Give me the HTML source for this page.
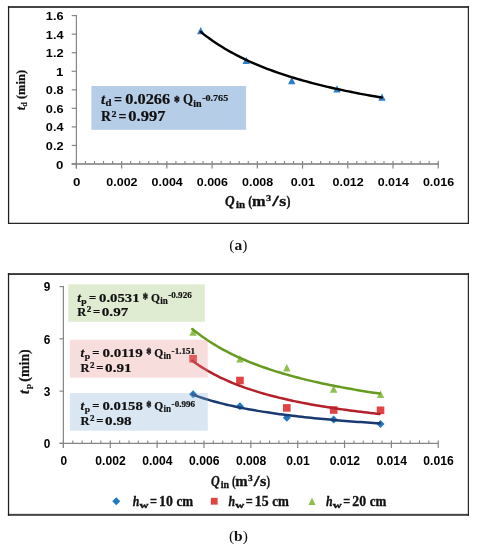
<!DOCTYPE html>
<html><head><meta charset="utf-8"><title>Figure</title>
<style>html,body{margin:0;padding:0;background:#fff}svg{display:block}text{fill:#111}.sa{font-family:"Liberation Sans",sans-serif;font-weight:bold;fill:#000}.se{font-family:"Liberation Serif",serif;font-weight:bold;stroke:#111;stroke-width:0.2px}.lg{stroke-width:0.35px}.xl{stroke-width:0.3px}.st{stroke-width:0.5px}.cap{font-family:"Liberation Serif",serif}</style></head>
<body>
<svg width="480" height="550" viewBox="0 0 480 550">
<rect width="480" height="550" fill="#fff"/>
<rect x="7.95" y="6.05" width="461.00" height="1.9" fill="#3c3c3c"/>
<rect x="7.95" y="222.75" width="461.00" height="1.2" fill="#1e1e1e"/>
<rect x="7.95" y="6.05" width="1.25" height="217.90" fill="#1e1e1e"/>
<rect x="467.80" y="6.05" width="1.15" height="217.90" fill="#1e1e1e"/>
<rect x="91.4" y="86" width="154.7" height="43.8" fill="#b5cde6"/>
<line x1="76.40" y1="15.00" x2="76.40" y2="168.60" stroke="#868686" stroke-width="1.2"/>
<line x1="71.70" y1="164.00" x2="438.85" y2="164.00" stroke="#7a7a7a" stroke-width="1.7"/>
<line x1="71.70" y1="164.00" x2="76.40" y2="164.00" stroke="#868686" stroke-width="1.2"/>
<text x="63.50" y="168.50" class="sa" font-size="11.7" text-anchor="end" textLength="7.4" lengthAdjust="spacingAndGlyphs">0</text>
<line x1="71.70" y1="145.45" x2="76.40" y2="145.45" stroke="#868686" stroke-width="1.2"/>
<text x="63.50" y="149.95" class="sa" font-size="11.7" text-anchor="end" textLength="17.7" lengthAdjust="spacingAndGlyphs">0.2</text>
<line x1="71.70" y1="126.90" x2="76.40" y2="126.90" stroke="#868686" stroke-width="1.2"/>
<text x="63.50" y="131.40" class="sa" font-size="11.7" text-anchor="end" textLength="17.7" lengthAdjust="spacingAndGlyphs">0.4</text>
<line x1="71.70" y1="108.35" x2="76.40" y2="108.35" stroke="#868686" stroke-width="1.2"/>
<text x="63.50" y="112.85" class="sa" font-size="11.7" text-anchor="end" textLength="17.7" lengthAdjust="spacingAndGlyphs">0.6</text>
<line x1="71.70" y1="89.80" x2="76.40" y2="89.80" stroke="#868686" stroke-width="1.2"/>
<text x="63.50" y="94.30" class="sa" font-size="11.7" text-anchor="end" textLength="17.7" lengthAdjust="spacingAndGlyphs">0.8</text>
<line x1="71.70" y1="71.25" x2="76.40" y2="71.25" stroke="#868686" stroke-width="1.2"/>
<text x="63.50" y="75.75" class="sa" font-size="11.7" text-anchor="end" textLength="7.4" lengthAdjust="spacingAndGlyphs">1</text>
<line x1="71.70" y1="52.70" x2="76.40" y2="52.70" stroke="#868686" stroke-width="1.2"/>
<text x="63.50" y="57.20" class="sa" font-size="11.7" text-anchor="end" textLength="17.7" lengthAdjust="spacingAndGlyphs">1.2</text>
<line x1="71.70" y1="34.15" x2="76.40" y2="34.15" stroke="#868686" stroke-width="1.2"/>
<text x="63.50" y="38.65" class="sa" font-size="11.7" text-anchor="end" textLength="17.7" lengthAdjust="spacingAndGlyphs">1.4</text>
<line x1="71.70" y1="15.60" x2="76.40" y2="15.60" stroke="#868686" stroke-width="1.2"/>
<text x="63.50" y="20.10" class="sa" font-size="11.7" text-anchor="end" textLength="17.7" lengthAdjust="spacingAndGlyphs">1.6</text>
<line x1="76.40" y1="161.00" x2="76.40" y2="168.60" stroke="#868686" stroke-width="1.2"/>
<text x="76.70" y="186.00" class="sa" font-size="11.7" text-anchor="middle" textLength="7.4" lengthAdjust="spacingAndGlyphs">0</text>
<line x1="85.45" y1="161.00" x2="85.45" y2="164.00" stroke="#868686" stroke-width="1.1"/>
<line x1="94.49" y1="161.00" x2="94.49" y2="164.00" stroke="#868686" stroke-width="1.1"/>
<line x1="103.54" y1="161.00" x2="103.54" y2="164.00" stroke="#868686" stroke-width="1.1"/>
<line x1="112.59" y1="161.00" x2="112.59" y2="164.00" stroke="#868686" stroke-width="1.1"/>
<line x1="121.63" y1="161.00" x2="121.63" y2="168.60" stroke="#868686" stroke-width="1.2"/>
<text x="121.93" y="186.00" class="sa" font-size="11.7" text-anchor="middle" textLength="31.2" lengthAdjust="spacingAndGlyphs">0.002</text>
<line x1="130.68" y1="161.00" x2="130.68" y2="164.00" stroke="#868686" stroke-width="1.1"/>
<line x1="139.72" y1="161.00" x2="139.72" y2="164.00" stroke="#868686" stroke-width="1.1"/>
<line x1="148.77" y1="161.00" x2="148.77" y2="164.00" stroke="#868686" stroke-width="1.1"/>
<line x1="157.82" y1="161.00" x2="157.82" y2="164.00" stroke="#868686" stroke-width="1.1"/>
<line x1="166.86" y1="161.00" x2="166.86" y2="168.60" stroke="#868686" stroke-width="1.2"/>
<text x="167.16" y="186.00" class="sa" font-size="11.7" text-anchor="middle" textLength="31.2" lengthAdjust="spacingAndGlyphs">0.004</text>
<line x1="175.91" y1="161.00" x2="175.91" y2="164.00" stroke="#868686" stroke-width="1.1"/>
<line x1="184.96" y1="161.00" x2="184.96" y2="164.00" stroke="#868686" stroke-width="1.1"/>
<line x1="194.00" y1="161.00" x2="194.00" y2="164.00" stroke="#868686" stroke-width="1.1"/>
<line x1="203.05" y1="161.00" x2="203.05" y2="164.00" stroke="#868686" stroke-width="1.1"/>
<line x1="212.09" y1="161.00" x2="212.09" y2="168.60" stroke="#868686" stroke-width="1.2"/>
<text x="212.39" y="186.00" class="sa" font-size="11.7" text-anchor="middle" textLength="31.2" lengthAdjust="spacingAndGlyphs">0.006</text>
<line x1="221.14" y1="161.00" x2="221.14" y2="164.00" stroke="#868686" stroke-width="1.1"/>
<line x1="230.19" y1="161.00" x2="230.19" y2="164.00" stroke="#868686" stroke-width="1.1"/>
<line x1="239.23" y1="161.00" x2="239.23" y2="164.00" stroke="#868686" stroke-width="1.1"/>
<line x1="248.28" y1="161.00" x2="248.28" y2="164.00" stroke="#868686" stroke-width="1.1"/>
<line x1="257.33" y1="161.00" x2="257.33" y2="168.60" stroke="#868686" stroke-width="1.2"/>
<text x="257.63" y="186.00" class="sa" font-size="11.7" text-anchor="middle" textLength="31.2" lengthAdjust="spacingAndGlyphs">0.008</text>
<line x1="266.37" y1="161.00" x2="266.37" y2="164.00" stroke="#868686" stroke-width="1.1"/>
<line x1="275.42" y1="161.00" x2="275.42" y2="164.00" stroke="#868686" stroke-width="1.1"/>
<line x1="284.46" y1="161.00" x2="284.46" y2="164.00" stroke="#868686" stroke-width="1.1"/>
<line x1="293.51" y1="161.00" x2="293.51" y2="164.00" stroke="#868686" stroke-width="1.1"/>
<line x1="302.56" y1="161.00" x2="302.56" y2="168.60" stroke="#868686" stroke-width="1.2"/>
<text x="302.86" y="186.00" class="sa" font-size="11.7" text-anchor="middle" textLength="24.4" lengthAdjust="spacingAndGlyphs">0.01</text>
<line x1="311.60" y1="161.00" x2="311.60" y2="164.00" stroke="#868686" stroke-width="1.1"/>
<line x1="320.65" y1="161.00" x2="320.65" y2="164.00" stroke="#868686" stroke-width="1.1"/>
<line x1="329.70" y1="161.00" x2="329.70" y2="164.00" stroke="#868686" stroke-width="1.1"/>
<line x1="338.74" y1="161.00" x2="338.74" y2="164.00" stroke="#868686" stroke-width="1.1"/>
<line x1="347.79" y1="161.00" x2="347.79" y2="168.60" stroke="#868686" stroke-width="1.2"/>
<text x="348.09" y="186.00" class="sa" font-size="11.7" text-anchor="middle" textLength="31.2" lengthAdjust="spacingAndGlyphs">0.012</text>
<line x1="356.83" y1="161.00" x2="356.83" y2="164.00" stroke="#868686" stroke-width="1.1"/>
<line x1="365.88" y1="161.00" x2="365.88" y2="164.00" stroke="#868686" stroke-width="1.1"/>
<line x1="374.93" y1="161.00" x2="374.93" y2="164.00" stroke="#868686" stroke-width="1.1"/>
<line x1="383.97" y1="161.00" x2="383.97" y2="164.00" stroke="#868686" stroke-width="1.1"/>
<line x1="393.02" y1="161.00" x2="393.02" y2="168.60" stroke="#868686" stroke-width="1.2"/>
<text x="393.32" y="186.00" class="sa" font-size="11.7" text-anchor="middle" textLength="31.2" lengthAdjust="spacingAndGlyphs">0.014</text>
<line x1="402.07" y1="161.00" x2="402.07" y2="164.00" stroke="#868686" stroke-width="1.1"/>
<line x1="411.11" y1="161.00" x2="411.11" y2="164.00" stroke="#868686" stroke-width="1.1"/>
<line x1="420.16" y1="161.00" x2="420.16" y2="164.00" stroke="#868686" stroke-width="1.1"/>
<line x1="429.20" y1="161.00" x2="429.20" y2="164.00" stroke="#868686" stroke-width="1.1"/>
<line x1="438.25" y1="161.00" x2="438.25" y2="168.60" stroke="#868686" stroke-width="1.2"/>
<text x="438.55" y="186.00" class="sa" font-size="11.7" text-anchor="middle" textLength="31.2" lengthAdjust="spacingAndGlyphs">0.016</text>
<polygon points="200.75,27.10 204.45,34.30 197.05,34.30" fill="#2a7fc6"/>
<polygon points="246.25,56.80 249.95,64.00 242.55,64.00" fill="#2a7fc6"/>
<polygon points="291.75,77.00 295.45,84.20 288.05,84.20" fill="#2a7fc6"/>
<polygon points="337.00,85.20 340.70,92.40 333.30,92.40" fill="#2a7fc6"/>
<polygon points="382.00,93.60 385.70,100.80 378.30,100.80" fill="#2a7fc6"/>
<polyline points="200.79,31.93 203.80,34.32 206.82,36.62 209.83,38.83 212.85,40.95 215.86,42.99 218.88,44.96 221.89,46.85 224.91,48.67 227.92,50.43 230.94,52.13 233.96,53.77 236.97,55.36 239.99,56.90 243.00,58.38 246.02,59.82 249.03,61.22 252.05,62.57 255.06,63.88 258.08,65.16 261.09,66.39 264.11,67.59 267.13,68.76 270.14,69.90 273.16,71.00 276.17,72.08 279.19,73.13 282.20,74.15 285.22,75.14 288.23,76.11 291.25,77.06 294.26,77.98 297.28,78.88 300.29,79.76 303.31,80.61 306.33,81.45 309.34,82.27 312.36,83.07 315.37,83.85 318.39,84.62 321.40,85.37 324.42,86.10 327.43,86.82 330.45,87.52 333.46,88.21 336.48,88.88 339.50,89.54 342.51,90.18 345.53,90.82 348.54,91.44 351.56,92.05 354.57,92.65 357.59,93.23 360.60,93.81 363.62,94.37 366.63,94.93 369.65,95.47 372.66,96.00 375.68,96.53 378.70,97.04 381.71,97.55" fill="none" stroke="#000" stroke-width="2.4" stroke-linecap="round" stroke-linejoin="round"/>
<text x="101.00" y="104.20" class="se" font-size="14.00" font-style="italic" textLength="4.20" lengthAdjust="spacingAndGlyphs">t</text>
<text x="105.60" y="106.40" class="se" font-size="9.46" textLength="6.00" lengthAdjust="spacingAndGlyphs">d</text>
<text x="114.00" y="104.20" class="se" font-size="14.00" textLength="8.00" lengthAdjust="spacingAndGlyphs">=</text>
<text x="125.30" y="104.20" class="se" font-size="14.00" textLength="44.85" lengthAdjust="spacingAndGlyphs">0.0266</text>
<text x="173.90" y="106.50" class="se st" font-size="17.50" textLength="5.80" lengthAdjust="spacingAndGlyphs">*</text>
<text x="182.90" y="104.20" class="se" font-size="14.00" textLength="10.00" lengthAdjust="spacingAndGlyphs">Q</text>
<text x="193.20" y="106.70" class="se" font-size="9.63" textLength="8.40" lengthAdjust="spacingAndGlyphs">in</text>
<text x="202.20" y="100.70" class="se" font-size="8.60" textLength="26.00" lengthAdjust="spacingAndGlyphs">-0.765</text>
<text x="101.10" y="120.70" class="se" font-size="14.00" textLength="10.00" lengthAdjust="spacingAndGlyphs">R</text>
<text x="111.50" y="116.50" class="se" font-size="8.60" textLength="5.00" lengthAdjust="spacingAndGlyphs">2</text>
<text x="118.50" y="120.70" class="se" font-size="14.00" textLength="8.00" lengthAdjust="spacingAndGlyphs">=</text>
<text x="128.30" y="120.70" class="se" font-size="14.00" textLength="37.10" lengthAdjust="spacingAndGlyphs">0.997</text>
<text x="225.10" y="205.60" class="se xl" font-size="14.20" font-style="italic" textLength="9.60" lengthAdjust="spacingAndGlyphs">Q</text>
<text x="236.00" y="207.90" class="se xl" font-size="10.12" textLength="9.20" lengthAdjust="spacingAndGlyphs">in</text>
<text x="248.20" y="205.60" class="se xl" font-size="14.20" textLength="4.00" lengthAdjust="spacingAndGlyphs">(</text>
<text x="252.00" y="205.60" class="se xl" font-size="14.20" textLength="13.60" lengthAdjust="spacingAndGlyphs">m</text>
<text x="266.00" y="201.00" class="se xl" font-size="9.20" textLength="5.20" lengthAdjust="spacingAndGlyphs">3</text>
<text x="272.20" y="205.60" class="se xl" font-size="14.20" textLength="6.60" lengthAdjust="spacingAndGlyphs">/</text>
<text x="279.20" y="205.60" class="se xl" font-size="14.20" textLength="7.00" lengthAdjust="spacingAndGlyphs">s</text>
<text x="286.40" y="205.60" class="se xl" font-size="14.20" textLength="4.00" lengthAdjust="spacingAndGlyphs">)</text>
<text transform="translate(25.00,110.30) rotate(-90)" class="se" font-size="12.5"><tspan font-style="italic">t</tspan><tspan font-size="8.25" dy="2" dx="0.0">d</tspan><tspan dy="-2" dx="-0.0"> (min)</tspan></text>
<text x="238.4" y="249.7" class="cap" font-size="15.5" text-anchor="middle">(<tspan font-weight="bold">a</tspan>)</text>
<rect x="7.9" y="273.1" width="461.05" height="1.9" fill="#383838"/>
<rect x="7.9" y="513.85" width="461.05" height="2.0" fill="#444444"/>
<rect x="7.9" y="273.1" width="1.25" height="242.75" fill="#1e1e1e"/>
<rect x="467.80" y="273.1" width="1.15" height="242.75" fill="#1e1e1e"/>
<line x1="63.40" y1="286.00" x2="63.40" y2="448.00" stroke="#868686" stroke-width="1.2"/>
<line x1="59.50" y1="443.40" x2="438.85" y2="443.40" stroke="#868686" stroke-width="1.2"/>
<line x1="59.50" y1="443.40" x2="63.40" y2="443.40" stroke="#868686" stroke-width="1.2"/>
<text x="50.30" y="448.10" class="sa" font-size="12.6" text-anchor="end" textLength="6.6" lengthAdjust="spacingAndGlyphs">0</text>
<line x1="59.50" y1="391.13" x2="63.40" y2="391.13" stroke="#868686" stroke-width="1.2"/>
<text x="50.30" y="395.83" class="sa" font-size="12.6" text-anchor="end" textLength="6.6" lengthAdjust="spacingAndGlyphs">3</text>
<line x1="59.50" y1="338.87" x2="63.40" y2="338.87" stroke="#868686" stroke-width="1.2"/>
<text x="50.30" y="343.57" class="sa" font-size="12.6" text-anchor="end" textLength="6.6" lengthAdjust="spacingAndGlyphs">6</text>
<line x1="59.50" y1="286.60" x2="63.40" y2="286.60" stroke="#868686" stroke-width="1.2"/>
<text x="50.30" y="291.30" class="sa" font-size="12.6" text-anchor="end" textLength="6.6" lengthAdjust="spacingAndGlyphs">9</text>
<line x1="63.40" y1="440.40" x2="63.40" y2="448.00" stroke="#868686" stroke-width="1.2"/>
<text x="63.70" y="465.10" class="sa" font-size="12.6" text-anchor="middle" textLength="6.6" lengthAdjust="spacingAndGlyphs">0</text>
<line x1="72.77" y1="440.40" x2="72.77" y2="443.40" stroke="#868686" stroke-width="1.1"/>
<line x1="82.14" y1="440.40" x2="82.14" y2="443.40" stroke="#868686" stroke-width="1.1"/>
<line x1="91.51" y1="440.40" x2="91.51" y2="443.40" stroke="#868686" stroke-width="1.1"/>
<line x1="100.88" y1="440.40" x2="100.88" y2="443.40" stroke="#868686" stroke-width="1.1"/>
<line x1="110.26" y1="440.40" x2="110.26" y2="448.00" stroke="#868686" stroke-width="1.2"/>
<text x="110.56" y="465.10" class="sa" font-size="12.6" text-anchor="middle" textLength="30.4" lengthAdjust="spacingAndGlyphs">0.002</text>
<line x1="119.63" y1="440.40" x2="119.63" y2="443.40" stroke="#868686" stroke-width="1.1"/>
<line x1="129.00" y1="440.40" x2="129.00" y2="443.40" stroke="#868686" stroke-width="1.1"/>
<line x1="138.37" y1="440.40" x2="138.37" y2="443.40" stroke="#868686" stroke-width="1.1"/>
<line x1="147.74" y1="440.40" x2="147.74" y2="443.40" stroke="#868686" stroke-width="1.1"/>
<line x1="157.11" y1="440.40" x2="157.11" y2="448.00" stroke="#868686" stroke-width="1.2"/>
<text x="157.41" y="465.10" class="sa" font-size="12.6" text-anchor="middle" textLength="30.4" lengthAdjust="spacingAndGlyphs">0.004</text>
<line x1="166.48" y1="440.40" x2="166.48" y2="443.40" stroke="#868686" stroke-width="1.1"/>
<line x1="175.86" y1="440.40" x2="175.86" y2="443.40" stroke="#868686" stroke-width="1.1"/>
<line x1="185.23" y1="440.40" x2="185.23" y2="443.40" stroke="#868686" stroke-width="1.1"/>
<line x1="194.60" y1="440.40" x2="194.60" y2="443.40" stroke="#868686" stroke-width="1.1"/>
<line x1="203.97" y1="440.40" x2="203.97" y2="448.00" stroke="#868686" stroke-width="1.2"/>
<text x="204.27" y="465.10" class="sa" font-size="12.6" text-anchor="middle" textLength="30.4" lengthAdjust="spacingAndGlyphs">0.006</text>
<line x1="213.34" y1="440.40" x2="213.34" y2="443.40" stroke="#868686" stroke-width="1.1"/>
<line x1="222.71" y1="440.40" x2="222.71" y2="443.40" stroke="#868686" stroke-width="1.1"/>
<line x1="232.08" y1="440.40" x2="232.08" y2="443.40" stroke="#868686" stroke-width="1.1"/>
<line x1="241.45" y1="440.40" x2="241.45" y2="443.40" stroke="#868686" stroke-width="1.1"/>
<line x1="250.83" y1="440.40" x2="250.83" y2="448.00" stroke="#868686" stroke-width="1.2"/>
<text x="251.13" y="465.10" class="sa" font-size="12.6" text-anchor="middle" textLength="30.4" lengthAdjust="spacingAndGlyphs">0.008</text>
<line x1="260.20" y1="440.40" x2="260.20" y2="443.40" stroke="#868686" stroke-width="1.1"/>
<line x1="269.57" y1="440.40" x2="269.57" y2="443.40" stroke="#868686" stroke-width="1.1"/>
<line x1="278.94" y1="440.40" x2="278.94" y2="443.40" stroke="#868686" stroke-width="1.1"/>
<line x1="288.31" y1="440.40" x2="288.31" y2="443.40" stroke="#868686" stroke-width="1.1"/>
<line x1="297.68" y1="440.40" x2="297.68" y2="448.00" stroke="#868686" stroke-width="1.2"/>
<text x="297.98" y="465.10" class="sa" font-size="12.6" text-anchor="middle" textLength="23.6" lengthAdjust="spacingAndGlyphs">0.01</text>
<line x1="307.05" y1="440.40" x2="307.05" y2="443.40" stroke="#868686" stroke-width="1.1"/>
<line x1="316.42" y1="440.40" x2="316.42" y2="443.40" stroke="#868686" stroke-width="1.1"/>
<line x1="325.80" y1="440.40" x2="325.80" y2="443.40" stroke="#868686" stroke-width="1.1"/>
<line x1="335.17" y1="440.40" x2="335.17" y2="443.40" stroke="#868686" stroke-width="1.1"/>
<line x1="344.54" y1="440.40" x2="344.54" y2="448.00" stroke="#868686" stroke-width="1.2"/>
<text x="344.84" y="465.10" class="sa" font-size="12.6" text-anchor="middle" textLength="30.4" lengthAdjust="spacingAndGlyphs">0.012</text>
<line x1="353.91" y1="440.40" x2="353.91" y2="443.40" stroke="#868686" stroke-width="1.1"/>
<line x1="363.28" y1="440.40" x2="363.28" y2="443.40" stroke="#868686" stroke-width="1.1"/>
<line x1="372.65" y1="440.40" x2="372.65" y2="443.40" stroke="#868686" stroke-width="1.1"/>
<line x1="382.02" y1="440.40" x2="382.02" y2="443.40" stroke="#868686" stroke-width="1.1"/>
<line x1="391.39" y1="440.40" x2="391.39" y2="448.00" stroke="#868686" stroke-width="1.2"/>
<text x="391.69" y="465.10" class="sa" font-size="12.6" text-anchor="middle" textLength="30.4" lengthAdjust="spacingAndGlyphs">0.014</text>
<line x1="400.76" y1="440.40" x2="400.76" y2="443.40" stroke="#868686" stroke-width="1.1"/>
<line x1="410.14" y1="440.40" x2="410.14" y2="443.40" stroke="#868686" stroke-width="1.1"/>
<line x1="419.51" y1="440.40" x2="419.51" y2="443.40" stroke="#868686" stroke-width="1.1"/>
<line x1="428.88" y1="440.40" x2="428.88" y2="443.40" stroke="#868686" stroke-width="1.1"/>
<line x1="438.25" y1="440.40" x2="438.25" y2="448.00" stroke="#868686" stroke-width="1.2"/>
<text x="438.55" y="465.10" class="sa" font-size="12.6" text-anchor="middle" textLength="30.4" lengthAdjust="spacingAndGlyphs">0.016</text>
<polygon points="193.10,390.25 197.10,394.25 193.10,398.25 189.10,394.25" fill="#2179c2"/>
<polygon points="239.96,402.25 243.96,406.25 239.96,410.25 235.96,406.25" fill="#2179c2"/>
<polygon points="286.82,413.80 290.82,417.80 286.82,421.80 282.82,417.80" fill="#2179c2"/>
<polygon points="333.67,415.60 337.67,419.60 333.67,423.60 329.67,419.60" fill="#2179c2"/>
<polygon points="380.53,420.00 384.53,424.00 380.53,428.00 376.53,424.00" fill="#2179c2"/>
<rect x="189.30" y="354.95" width="7.60" height="7.60" fill="#e04444"/>
<rect x="236.16" y="376.70" width="7.60" height="7.60" fill="#e04444"/>
<rect x="283.02" y="404.10" width="7.60" height="7.60" fill="#e04444"/>
<rect x="329.87" y="406.20" width="7.60" height="7.60" fill="#e04444"/>
<rect x="376.73" y="406.50" width="7.60" height="7.60" fill="#e04444"/>
<polygon points="193.10,328.30 196.80,335.70 189.40,335.70" fill="#8fc04e"/>
<polygon points="239.96,355.05 243.66,362.45 236.26,362.45" fill="#8fc04e"/>
<polygon points="286.82,364.00 290.52,371.40 283.12,371.40" fill="#8fc04e"/>
<polygon points="333.67,385.30 337.37,392.70 329.97,392.70" fill="#8fc04e"/>
<polygon points="380.53,390.50 384.23,397.90 376.83,397.90" fill="#8fc04e"/>
<polyline points="192.25,394.38 195.38,395.54 198.50,396.64 201.63,397.69 204.75,398.70 207.87,399.66 211.00,400.58 214.12,401.47 217.24,402.31 220.37,403.13 223.49,403.91 226.62,404.66 229.74,405.39 232.86,406.09 235.99,406.76 239.11,407.41 242.23,408.03 245.36,408.64 248.48,409.22 251.61,409.79 254.73,410.34 257.85,410.86 260.98,411.38 264.10,411.87 267.22,412.35 270.35,412.82 273.47,413.27 276.60,413.71 279.72,414.14 282.84,414.56 285.97,414.96 289.09,415.35 292.21,415.73 295.34,416.10 298.46,416.46 301.59,416.82 304.71,417.16 307.83,417.49 310.96,417.82 314.08,418.14 317.20,418.45 320.33,418.75 323.45,419.04 326.58,419.33 329.70,419.61 332.82,419.89 335.95,420.16 339.07,420.42 342.19,420.67 345.32,420.93 348.44,421.17 351.57,421.41 354.69,421.65 357.81,421.88 360.94,422.10 364.06,422.32 367.18,422.54 370.31,422.75 373.43,422.96 376.56,423.16 379.68,423.36" fill="none" stroke="#193a70" stroke-width="2.5" stroke-linecap="round" stroke-linejoin="round"/>
<polyline points="192.25,360.70 195.38,362.95 198.50,365.09 201.63,367.12 204.75,369.06 207.87,370.91 211.00,372.67 214.12,374.35 217.24,375.96 220.37,377.51 223.49,378.98 226.62,380.40 229.74,381.76 232.86,383.07 235.99,384.32 239.11,385.53 242.23,386.69 245.36,387.81 248.48,388.89 251.61,389.93 254.73,390.93 257.85,391.90 260.98,392.84 264.10,393.74 267.22,394.62 270.35,395.46 273.47,396.28 276.60,397.08 279.72,397.85 282.84,398.59 285.97,399.32 289.09,400.02 292.21,400.70 295.34,401.36 298.46,402.00 301.59,402.63 304.71,403.23 307.83,403.82 310.96,404.40 314.08,404.96 317.20,405.50 320.33,406.03 323.45,406.55 326.58,407.05 329.70,407.54 332.82,408.02 335.95,408.48 339.07,408.94 342.19,409.38 345.32,409.82 348.44,410.24 351.57,410.65 354.69,411.06 357.81,411.45 360.94,411.84 364.06,412.21 367.18,412.58 370.31,412.94 373.43,413.30 376.56,413.64 379.68,413.98" fill="none" stroke="#b3212a" stroke-width="2.5" stroke-linecap="round" stroke-linejoin="round"/>
<polyline points="192.25,328.95 195.38,331.46 198.50,333.86 201.63,336.15 204.75,338.35 207.87,340.45 211.00,342.47 214.12,344.41 217.24,346.27 220.37,348.06 223.49,349.79 226.62,351.45 229.74,353.05 232.86,354.59 235.99,356.08 239.11,357.52 242.23,358.91 245.36,360.25 248.48,361.55 251.61,362.81 254.73,364.03 257.85,365.21 260.98,366.36 264.10,367.47 267.22,368.55 270.35,369.59 273.47,370.61 276.60,371.60 279.72,372.56 282.84,373.49 285.97,374.40 289.09,375.29 292.21,376.15 295.34,376.99 298.46,377.81 301.59,378.60 304.71,379.38 307.83,380.14 310.96,380.88 314.08,381.60 317.20,382.30 320.33,382.99 323.45,383.66 326.58,384.32 329.70,384.96 332.82,385.59 335.95,386.21 339.07,386.81 342.19,387.39 345.32,387.97 348.44,388.53 351.57,389.08 354.69,389.62 357.81,390.15 360.94,390.67 364.06,391.18 367.18,391.67 370.31,392.16 373.43,392.64 376.56,393.11 379.68,393.57" fill="none" stroke="#669b20" stroke-width="2.5" stroke-linecap="round" stroke-linejoin="round"/>
<rect x="68.2" y="284.3" width="136.7" height="37.5" fill="#94c069" fill-opacity="0.3"/>
<rect x="69.8" y="339.8" width="138" height="37.9" fill="#e88e8e" fill-opacity="0.3"/>
<rect x="69.8" y="393.1" width="138" height="37.6" fill="#87acd7" fill-opacity="0.3"/>
<text x="77.23" y="301.80" class="se" font-size="13.51" font-style="italic" textLength="3.78" lengthAdjust="spacingAndGlyphs">t</text>
<text x="81.37" y="303.92" class="se" font-size="9.13" textLength="5.40" lengthAdjust="spacingAndGlyphs">p</text>
<text x="88.93" y="301.80" class="se" font-size="13.51" textLength="7.20" lengthAdjust="spacingAndGlyphs">=</text>
<text x="99.10" y="301.80" class="se" font-size="13.51" textLength="40.43" lengthAdjust="spacingAndGlyphs">0.0531</text>
<text x="142.84" y="304.02" class="se st" font-size="16.89" textLength="5.22" lengthAdjust="spacingAndGlyphs">*</text>
<text x="150.94" y="301.80" class="se" font-size="13.51" textLength="9.00" lengthAdjust="spacingAndGlyphs">Q</text>
<text x="160.21" y="304.21" class="se" font-size="9.29" textLength="7.56" lengthAdjust="spacingAndGlyphs">in</text>
<text x="168.31" y="298.42" class="se" font-size="8.30" textLength="23.40" lengthAdjust="spacingAndGlyphs">-0.926</text>
<text x="77.32" y="316.40" class="se" font-size="13.51" textLength="9.00" lengthAdjust="spacingAndGlyphs">R</text>
<text x="86.68" y="312.35" class="se" font-size="8.30" textLength="4.50" lengthAdjust="spacingAndGlyphs">2</text>
<text x="92.98" y="316.40" class="se" font-size="13.51" textLength="7.20" lengthAdjust="spacingAndGlyphs">=</text>
<text x="101.80" y="316.40" class="se" font-size="13.51" textLength="26.48" lengthAdjust="spacingAndGlyphs">0.97</text>
<text x="80.53" y="357.00" class="se" font-size="13.51" font-style="italic" textLength="3.78" lengthAdjust="spacingAndGlyphs">t</text>
<text x="84.67" y="359.12" class="se" font-size="9.13" textLength="5.40" lengthAdjust="spacingAndGlyphs">p</text>
<text x="92.23" y="357.00" class="se" font-size="13.51" textLength="7.20" lengthAdjust="spacingAndGlyphs">=</text>
<text x="102.40" y="357.00" class="se" font-size="13.51" textLength="40.43" lengthAdjust="spacingAndGlyphs">0.0119</text>
<text x="146.14" y="359.22" class="se st" font-size="16.89" textLength="5.22" lengthAdjust="spacingAndGlyphs">*</text>
<text x="154.24" y="357.00" class="se" font-size="13.51" textLength="9.00" lengthAdjust="spacingAndGlyphs">Q</text>
<text x="163.51" y="359.41" class="se" font-size="9.29" textLength="7.56" lengthAdjust="spacingAndGlyphs">in</text>
<text x="171.61" y="353.62" class="se" font-size="8.30" textLength="23.40" lengthAdjust="spacingAndGlyphs">-1.151</text>
<text x="80.62" y="371.60" class="se" font-size="13.51" textLength="9.00" lengthAdjust="spacingAndGlyphs">R</text>
<text x="89.98" y="367.55" class="se" font-size="8.30" textLength="4.50" lengthAdjust="spacingAndGlyphs">2</text>
<text x="96.28" y="371.60" class="se" font-size="13.51" textLength="7.20" lengthAdjust="spacingAndGlyphs">=</text>
<text x="105.10" y="371.60" class="se" font-size="13.51" textLength="26.48" lengthAdjust="spacingAndGlyphs">0.91</text>
<text x="80.53" y="410.00" class="se" font-size="13.51" font-style="italic" textLength="3.78" lengthAdjust="spacingAndGlyphs">t</text>
<text x="84.67" y="412.12" class="se" font-size="9.13" textLength="5.40" lengthAdjust="spacingAndGlyphs">p</text>
<text x="92.23" y="410.00" class="se" font-size="13.51" textLength="7.20" lengthAdjust="spacingAndGlyphs">=</text>
<text x="102.40" y="410.00" class="se" font-size="13.51" textLength="40.43" lengthAdjust="spacingAndGlyphs">0.0158</text>
<text x="146.14" y="412.22" class="se st" font-size="16.89" textLength="5.22" lengthAdjust="spacingAndGlyphs">*</text>
<text x="154.24" y="410.00" class="se" font-size="13.51" textLength="9.00" lengthAdjust="spacingAndGlyphs">Q</text>
<text x="163.51" y="412.41" class="se" font-size="9.29" textLength="7.56" lengthAdjust="spacingAndGlyphs">in</text>
<text x="171.61" y="406.62" class="se" font-size="8.30" textLength="23.40" lengthAdjust="spacingAndGlyphs">-0.996</text>
<text x="80.62" y="424.60" class="se" font-size="13.51" textLength="9.00" lengthAdjust="spacingAndGlyphs">R</text>
<text x="89.98" y="420.55" class="se" font-size="8.30" textLength="4.50" lengthAdjust="spacingAndGlyphs">2</text>
<text x="96.28" y="424.60" class="se" font-size="13.51" textLength="7.20" lengthAdjust="spacingAndGlyphs">=</text>
<text x="105.10" y="424.60" class="se" font-size="13.51" textLength="26.48" lengthAdjust="spacingAndGlyphs">0.98</text>
<text x="210.98" y="485.50" class="se xl" font-size="13.64" font-style="italic" textLength="8.70" lengthAdjust="spacingAndGlyphs">Q</text>
<text x="220.85" y="487.58" class="se xl" font-size="9.72" textLength="8.34" lengthAdjust="spacingAndGlyphs">in</text>
<text x="231.91" y="485.50" class="se xl" font-size="13.64" textLength="3.62" lengthAdjust="spacingAndGlyphs">(</text>
<text x="235.35" y="485.50" class="se xl" font-size="13.64" textLength="12.32" lengthAdjust="spacingAndGlyphs">m</text>
<text x="248.03" y="481.33" class="se xl" font-size="8.84" textLength="4.71" lengthAdjust="spacingAndGlyphs">3</text>
<text x="253.65" y="485.50" class="se xl" font-size="13.64" textLength="5.98" lengthAdjust="spacingAndGlyphs">/</text>
<text x="259.99" y="485.50" class="se xl" font-size="13.64" textLength="6.34" lengthAdjust="spacingAndGlyphs">s</text>
<text x="266.52" y="485.50" class="se xl" font-size="13.64" textLength="3.62" lengthAdjust="spacingAndGlyphs">)</text>
<text transform="translate(29.20,394.10) rotate(-90)" class="se" font-size="13.9"><tspan font-style="italic">t</tspan><tspan font-size="9.17" dy="2" dx="1.2">p</tspan><tspan dy="-2" dx="-1.2"> (min)</tspan></text>
<polygon points="116.25,497.25 120.25,501.25 116.25,505.25 112.25,501.25" fill="#2179c2"/>
<text x="132.70" y="505.50" class="se lg" font-size="14.20" font-style="italic" textLength="6.60" lengthAdjust="spacingAndGlyphs">h</text>
<text x="139.50" y="507.70" class="se lg" font-size="9.00" textLength="9.00" lengthAdjust="spacingAndGlyphs">w</text>
<text x="150.00" y="505.50" class="se lg" font-size="14.20" textLength="7.00" lengthAdjust="spacingAndGlyphs">=</text>
<text x="159.10" y="505.50" class="se lg" font-size="14.20" textLength="13.80" lengthAdjust="spacingAndGlyphs">10</text>
<text x="176.40" y="505.50" class="se lg" font-size="14.20" textLength="16.60" lengthAdjust="spacingAndGlyphs">cm</text>
<rect x="210.85" y="497.85" width="6.80" height="6.80" fill="#e04444"/>
<text x="228.45" y="505.50" class="se lg" font-size="14.20" font-style="italic" textLength="6.60" lengthAdjust="spacingAndGlyphs">h</text>
<text x="235.25" y="507.70" class="se lg" font-size="9.00" textLength="9.00" lengthAdjust="spacingAndGlyphs">w</text>
<text x="245.75" y="505.50" class="se lg" font-size="14.20" textLength="7.00" lengthAdjust="spacingAndGlyphs">=</text>
<text x="254.85" y="505.50" class="se lg" font-size="14.20" textLength="13.80" lengthAdjust="spacingAndGlyphs">15</text>
<text x="272.15" y="505.50" class="se lg" font-size="14.20" textLength="16.60" lengthAdjust="spacingAndGlyphs">cm</text>
<polygon points="312.00,497.55 315.50,504.95 308.50,504.95" fill="#8fc04e"/>
<text x="325.95" y="505.50" class="se lg" font-size="14.20" font-style="italic" textLength="6.60" lengthAdjust="spacingAndGlyphs">h</text>
<text x="332.75" y="507.70" class="se lg" font-size="9.00" textLength="9.00" lengthAdjust="spacingAndGlyphs">w</text>
<text x="343.25" y="505.50" class="se lg" font-size="14.20" textLength="7.00" lengthAdjust="spacingAndGlyphs">=</text>
<text x="352.35" y="505.50" class="se lg" font-size="14.20" textLength="13.80" lengthAdjust="spacingAndGlyphs">20</text>
<text x="369.65" y="505.50" class="se lg" font-size="14.20" textLength="16.60" lengthAdjust="spacingAndGlyphs">cm</text>
<text x="238.4" y="541" class="cap" font-size="15.5" text-anchor="middle">(<tspan font-weight="bold">b</tspan>)</text>
</svg>
</body></html>
